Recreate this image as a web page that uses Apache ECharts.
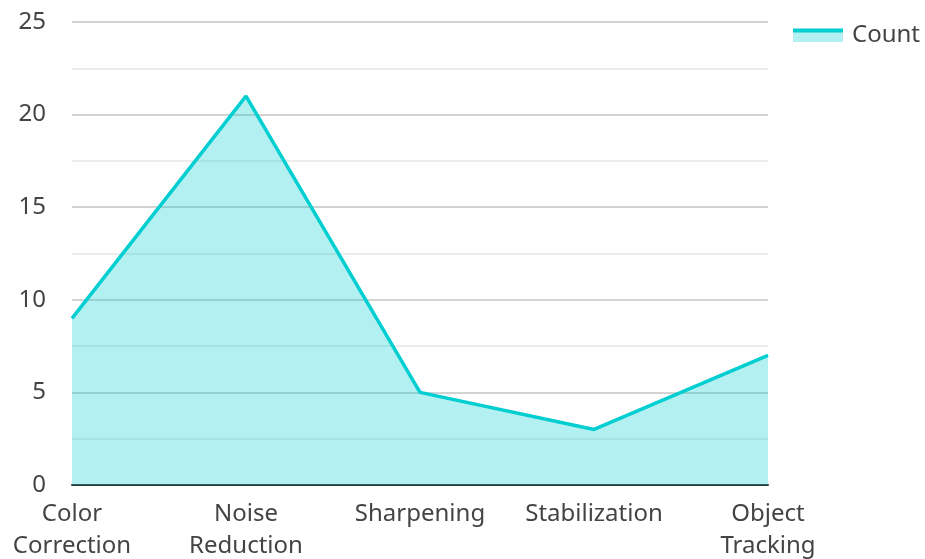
<!DOCTYPE html>
<html>
<head>
<meta charset="utf-8">
<script src="https://cdn.jsdelivr.net/npm/echarts@6/dist/echarts.min.js"></script>
<style>
  html, body { margin: 0; padding: 0; background: #fff; }
  #chart { width: 925px; height: 559px; }
</style>
</head>
<body>
<div id="chart"></div>
<script>
// Task categories and their counts
const categories = ['Color\nCorrection', 'Noise\nReduction', 'Sharpening', 'Stabilization', 'Object\nTracking'];
const counts = [9, 21, 5, 3, 7];
const seriesName = 'Count';

const lineColor = '#00CED1';
const fillColor = 'rgba(0, 206, 209, 0.3)';
const textColor = '#444';
const fontFamily = '"Noto Sans", sans-serif';

// Legend swatch: a solid line over a light filled band
const legendIcon = 'image://data:image/svg+xml;utf8,' + encodeURIComponent(
  '<svg xmlns="http://www.w3.org/2000/svg" width="50" height="14" viewBox="0 0 50 14">' +
  '<rect x="0" y="4" width="50" height="10" fill="' + fillColor + '"/>' +
  '<rect x="0" y="0.5" width="50" height="4" fill="' + lineColor + '"/>' +
  '</svg>'
);

const chart = echarts.init(document.getElementById('chart'));
chart.setOption({
  animation: false,
  textStyle: { fontFamily: fontFamily },
  legend: {
    data: [{ name: seriesName, icon: legendIcon }],
    right: 0,
    top: 18,
    itemWidth: 50,
    itemHeight: 14,
    itemGap: 10,
    textStyle: { fontSize: 24, color: textColor, fontFamily: fontFamily, padding: [0, 0, 0, 4] }
  },
  grid: { left: 72, right: 157, top: 22, bottom: 74, containLabel: false, outerBoundsMode: 'none' },
  xAxis: {
    type: 'category',
    data: categories,
    boundaryGap: false,
    axisLine: { show: true, lineStyle: { color: '#333', width: 2 } },
    axisTick: { show: false },
    axisLabel: { fontSize: 24, color: textColor, lineHeight: 32, margin: 13, interval: 0 }
  },
  yAxis: {
    type: 'value',
    min: 0,
    max: 25,
    interval: 5,
    axisLine: { show: false },
    axisTick: { show: false },
    axisLabel: { fontSize: 24, color: textColor, margin: 26 },
    splitLine: { show: true, lineStyle: { color: '#c4c4c4', width: 1.5 } },
    minorTick: { show: false, splitNumber: 2 },
    minorSplitLine: { show: true, lineStyle: { color: '#e6e6e6', width: 1.5 } }
  },
  series: [{
    name: seriesName,
    type: 'line',
    data: counts,
    symbol: 'none',
    showSymbol: false,
    lineStyle: { color: lineColor, width: 3.5 },
    itemStyle: { color: lineColor },
    areaStyle: { color: fillColor, opacity: 1 }
  }]
});
</script>
</body>
</html>
